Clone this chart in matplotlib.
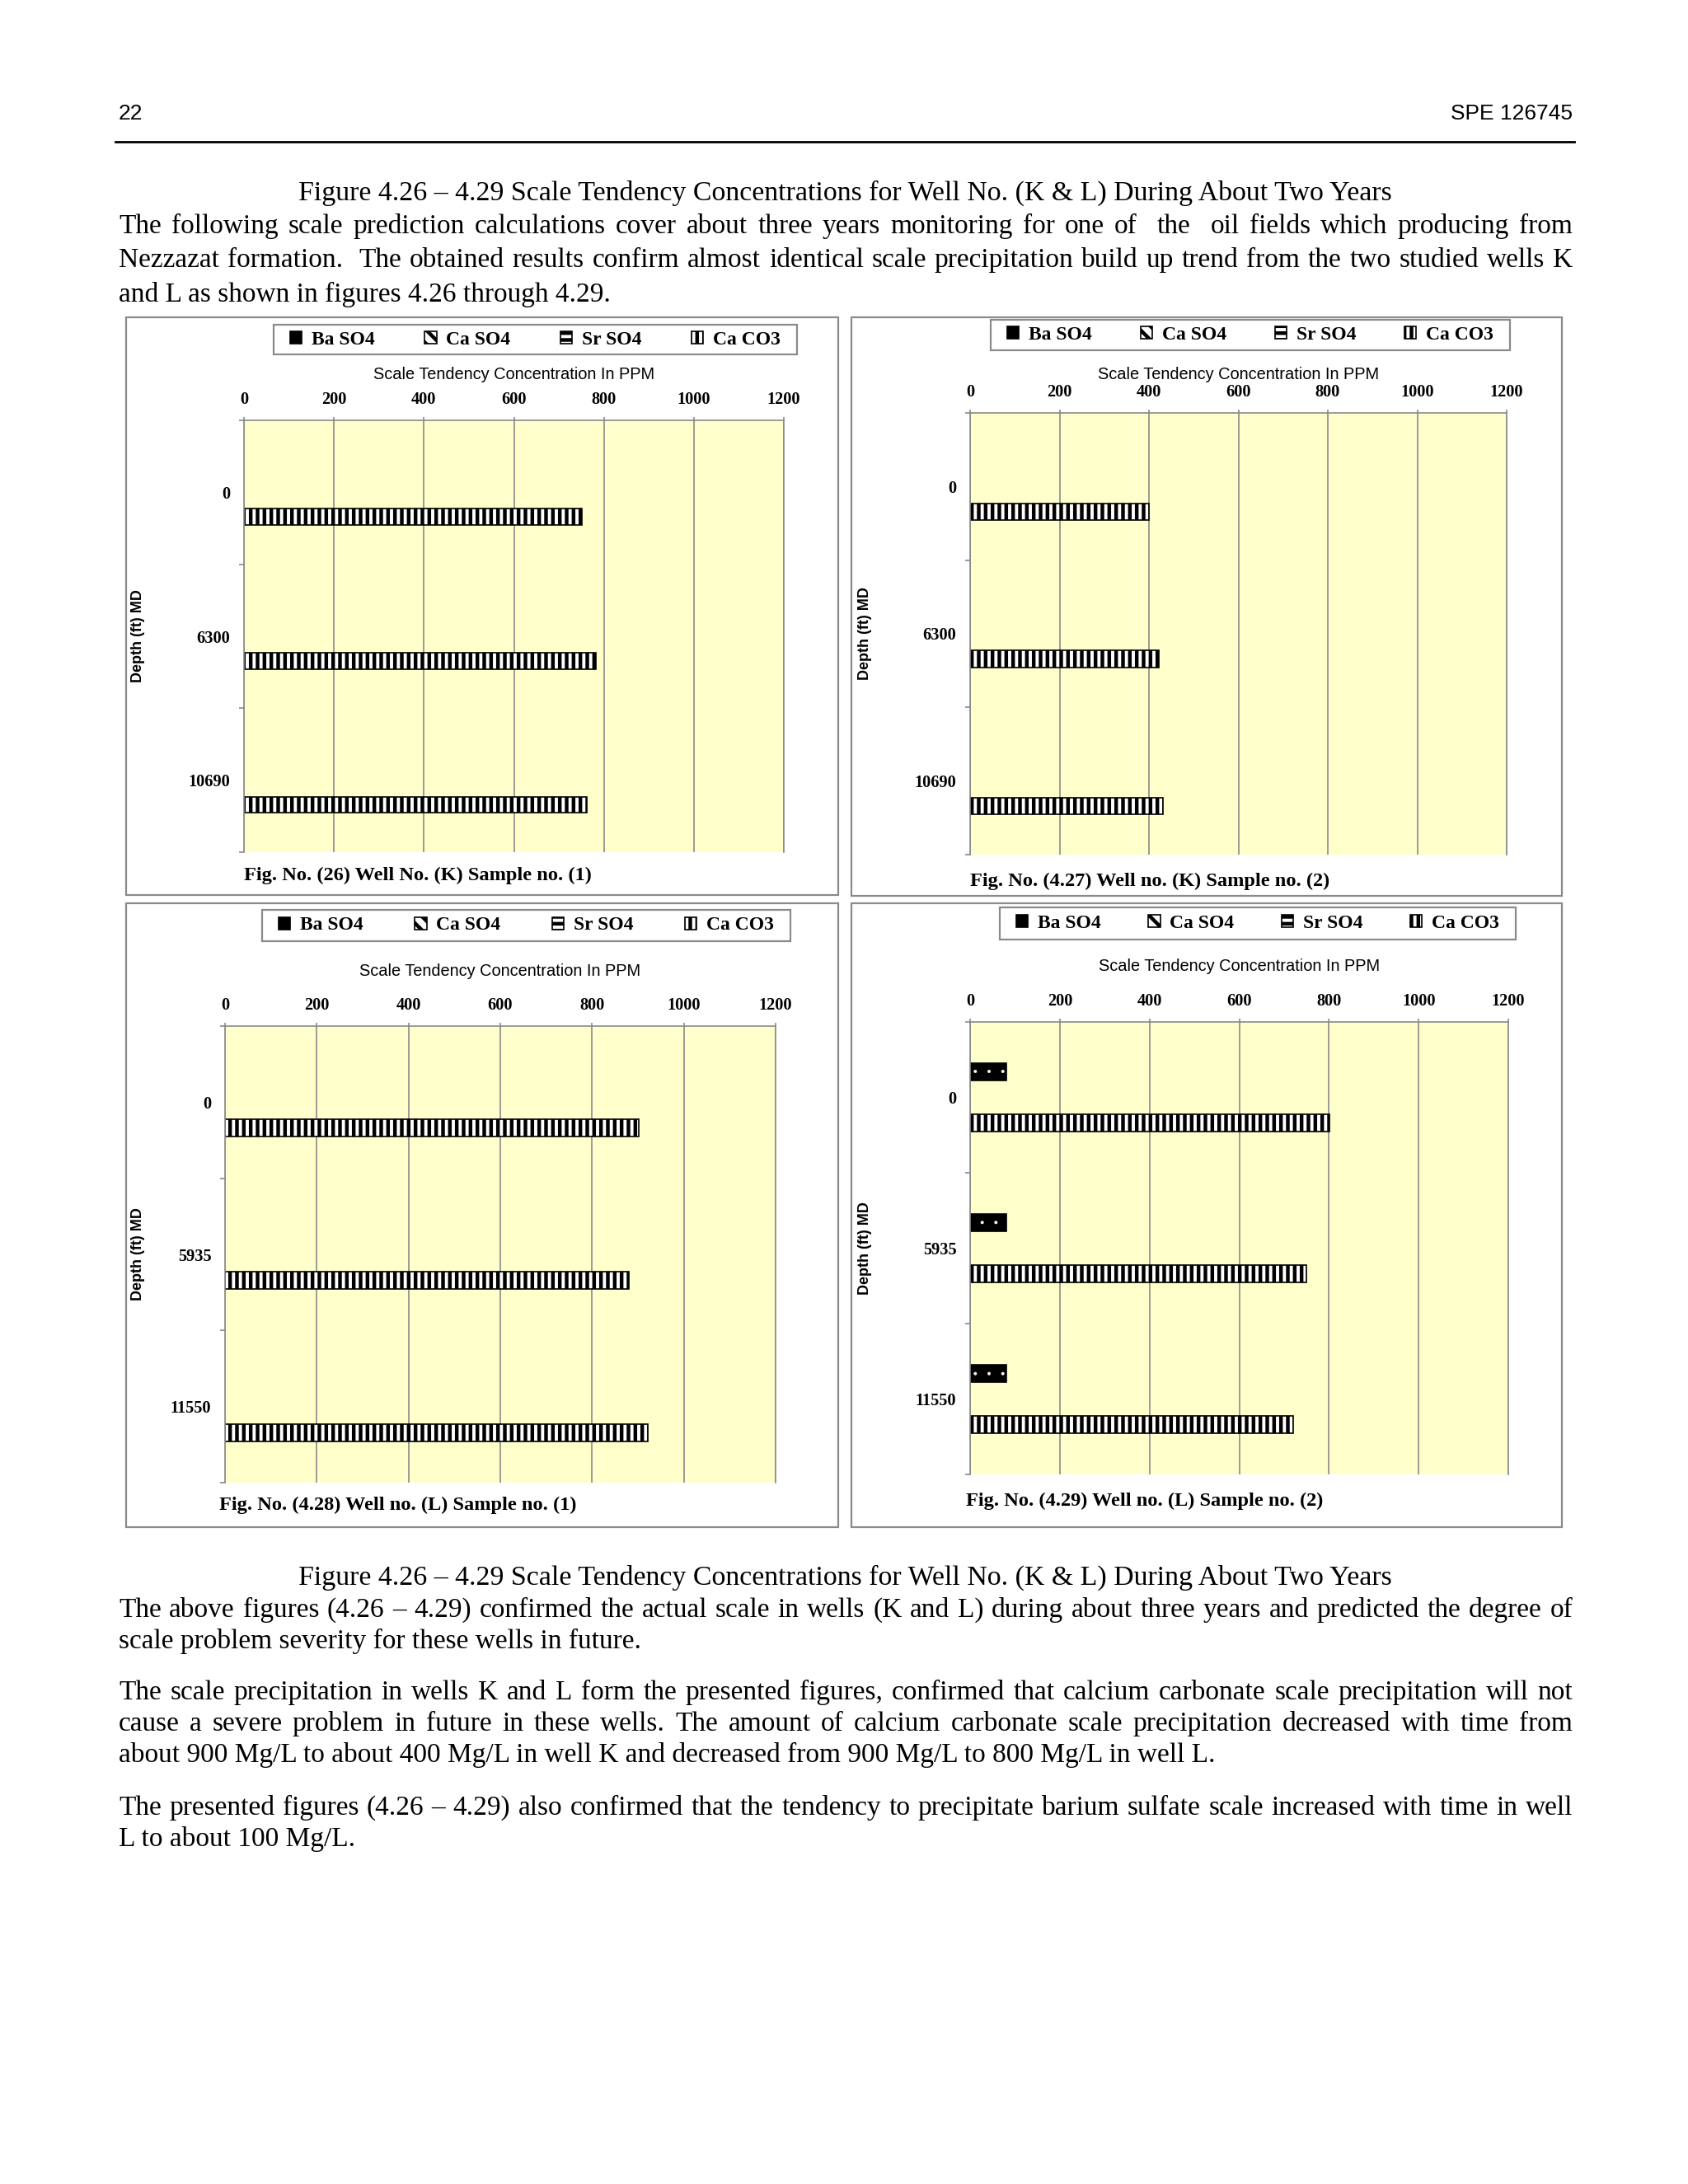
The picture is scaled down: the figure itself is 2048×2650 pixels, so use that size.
import matplotlib
matplotlib.use("Agg")
import matplotlib.pyplot as plt
from matplotlib.patches import Patch, Rectangle

plt.rcParams['font.family'] = ['Liberation Serif', 'DejaVu Serif']
plt.rcParams['hatch.linewidth'] = 1.6

W, H, DPI = 2048, 2650, 200

# ---------------- chart data ----------------
series_names = ['Ba SO4', 'Ca SO4', 'Sr SO4', 'Ca CO3']
depths_k = ['0', '6300', '10690']
depths_l = ['0', '5935', '11550']
conc_ticks = [0, 200, 400, 600, 800, 1000, 1200]

# well K, sample 1
k1_ba_so4 = [0, 0, 0]
k1_ca_so4 = [0, 0, 0]
k1_sr_so4 = [0, 0, 0]
k1_ca_co3 = [752, 782, 762]
# well K, sample 2
k2_ba_so4 = [0, 0, 0]
k2_ca_so4 = [0, 0, 0]
k2_sr_so4 = [0, 0, 0]
k2_ca_co3 = [400, 422, 431]
# well L, sample 1
l1_ba_so4 = [0, 0, 0]
l1_ca_so4 = [0, 0, 0]
l1_sr_so4 = [0, 0, 0]
l1_ca_co3 = [901, 881, 921]
# well L, sample 2
l2_ba_so4 = [80, 80, 80]
l2_ca_so4 = [0, 0, 0]
l2_sr_so4 = [0, 0, 0]
l2_ca_co3 = [802, 750, 720]

chart_captions = ['Fig. No. (26) Well No. (K) Sample no. (1)',
                  'Fig. No. (4.27) Well no. (K) Sample no. (2)',
                  'Fig. No. (4.28) Well no. (L) Sample no. (1)',
                  'Fig. No. (4.29) Well no. (L) Sample no. (2)']
axis_title = 'Scale Tendency Concentration In PPM'
depth_title = 'Depth (ft) MD'

# ---------------- page text ----------------
header_left = '22'
header_right = 'SPE 126745'
figure_caption = ('Figure 4.26 \u2013 4.29 Scale Tendency Concentrations for Well No. '
                  '(K & L) During About Two Years')
para_1 = ['The following scale prediction calculations cover about three years monitoring for one of  the  oil fields which producing from',
          'Nezzazat formation.  The obtained results confirm almost identical scale precipitation build up trend from the two studied wells K',
          'and L as shown in figures 4.26 through 4.29.']
para_2 = ['The above figures (4.26 \u2013 4.29) confirmed the actual scale in wells (K and L) during about three years and predicted the degree of',
          'scale problem severity for these wells in future.']
para_3 = ['The scale precipitation in wells K and L form the presented figures, confirmed that calcium carbonate scale precipitation will not',
          'cause a severe problem in future in these wells. The amount of calcium carbonate scale precipitation decreased with time from',
          'about 900 Mg/L to about 400 Mg/L in well K and decreased from 900 Mg/L to 800 Mg/L in well L.']
para_4 = ['The presented figures (4.26 \u2013 4.29) also confirmed that the tendency to precipitate barium sulfate scale increased with time in well',
          'L to about 100 Mg/L.']

# layout of the four panels in page pixels
charts = [
    dict(depths=depths_k, values=[k1_ba_so4, k1_ca_so4, k1_sr_so4, k1_ca_co3],
         caption=chart_captions[0], box=(153, 385, 1017, 1086), plot=(296, 510, 951, 1034),
         legend=(332, 394, 967, 430), title_y=455, cap_xy=(296, 1068), ylabel_x=168),
    dict(depths=depths_k, values=[k2_ba_so4, k2_ca_so4, k2_sr_so4, k2_ca_co3],
         caption=chart_captions[1], box=(1033, 385, 1895, 1087), plot=(1177, 501, 1828, 1037),
         legend=(1202, 388, 1832, 425), title_y=454, cap_xy=(1177, 1075), ylabel_x=1049),
    dict(depths=depths_l, values=[l1_ba_so4, l1_ca_so4, l1_sr_so4, l1_ca_co3],
         caption=chart_captions[2], box=(153, 1096, 1017, 1853), plot=(273, 1245, 941, 1799),
         legend=(318, 1104, 959, 1142), title_y=1178, cap_xy=(266, 1832), ylabel_x=168),
    dict(depths=depths_l, values=[l2_ba_so4, l2_ca_so4, l2_sr_so4, l2_ca_co3],
         caption=chart_captions[3], box=(1033, 1096, 1895, 1853), plot=(1177, 1240, 1830, 1789),
         legend=(1213, 1101, 1839, 1140), title_y=1172, cap_xy=(1172, 1827), ylabel_x=1049),
]

SLOT = 0.114          # bar thickness as a share of one depth band
GRAY = '#8a8a8a'
HATCHES = [None, '\\\\\\\\', '----', '||||']


def frac(x0, y0, x1, y1):
    return [x0 / W, 1 - y1 / H, (x1 - x0) / W, (y1 - y0) / H]


fig = plt.figure(figsize=(W / DPI, H / DPI), dpi=DPI)
renderer = fig.canvas.get_renderer()

# page layer in pixel units
pg = fig.add_axes([0, 0, 1, 1])
pg.set_xlim(0, W)
pg.set_ylim(H, 0)
pg.axis('off')

LEFT, RIGHT, BODY = 144, 1908, 12

pg.text(LEFT, 145, header_left, family='Liberation Sans', size=9.5, va='baseline')
pg.text(RIGHT, 145, header_right, family='Liberation Sans', size=9.5, va='baseline', ha='right')
pg.plot([140, 1910], [172, 172], color='black', lw=1.0)


def put_line(text, y, justify):
    if not justify:
        pg.text(LEFT, y, text, size=BODY, va='baseline')
        return
    words = text.split(' ')
    objs = [pg.text(0, y, w, size=BODY, va='baseline') for w in words]
    widths = [o.get_window_extent(renderer).width if w else 0 for o, w in zip(objs, words)]
    gap = (RIGHT - LEFT - sum(widths)) / (len(words) - 1)
    x = LEFT
    for o, wd in zip(objs, widths):
        o.set_x(x)
        x += wd + gap


def put_para(lines, ys):
    for k, (line, y) in enumerate(zip(lines, ys)):
        put_line(line, y, k < len(lines) - 1)


pg.text(1025, 243, figure_caption, size=12.2, ha='center', va='baseline')
put_para(para_1, [283, 324, 366])
pg.text(1025, 1923, figure_caption, size=12.2, ha='center', va='baseline')
put_para(para_2, [1962, 2000])
put_para(para_3, [2062, 2100, 2138])
put_para(para_4, [2202, 2240])

legend_handles = [
    Patch(facecolor='black', edgecolor='black', linewidth=0.6),
    Patch(facecolor='white', edgecolor='black', hatch=HATCHES[1], linewidth=0.6),
    Patch(facecolor='white', edgecolor='black', hatch=HATCHES[2], linewidth=0.6),
    Patch(facecolor='white', edgecolor='black', hatch=HATCHES[3], linewidth=0.6),
]

for ch in charts:
    bx0, by0, bx1, by1 = ch['box']
    pg.add_patch(Rectangle((bx0, by0), bx1 - bx0, by1 - by0, fill=False, edgecolor=GRAY, lw=0.8))
    lx0, ly0, lx1, ly1 = ch['legend']
    pg.add_patch(Rectangle((lx0, ly0), lx1 - lx0, ly1 - ly0, facecolor='white', edgecolor=GRAY, lw=0.8))

    px0, py0, px1, py1 = ch['plot']
    ax = fig.add_axes(frac(px0, py0, px1, py1))
    ax.set_facecolor('#FFFFCC')
    n = len(ch['depths'])
    ax.set_xlim(0, 1200)
    ax.set_ylim(n, 0)

    for j, vals in enumerate(ch['values']):
        ys = [i + 0.5 + (j - 1.5) * SLOT for i in range(n)]
        lws = [0.6 if v > 0 else 0 for v in vals]
        if j == 0:
            # Ba SO4: black with a few tiny white dots
            with plt.rc_context({'hatch.linewidth': 0.2}):
                ax.barh(ys, vals, height=SLOT, color='black', edgecolor='white', hatch='..', linewidth=0)
            ax.barh(ys, vals, height=SLOT, fill=False, edgecolor='black', linewidth=lws)
        else:
            ax.barh(ys, vals, height=SLOT, color='white', edgecolor='black', hatch=HATCHES[j], linewidth=lws)

    ax.xaxis.tick_top()
    ax.set_xticks(conc_ticks)
    ax.set_xticklabels([str(t) for t in conc_ticks], fontweight='bold')
    ax.tick_params(axis='x', direction='out', length=1.5, width=0.6, color=GRAY, pad=4, labelsize=7.3)
    ax.grid(axis='x', color=GRAY, linewidth=0.6)
    ax.set_axisbelow(True)
    ax.set_yticks([i + 0.5 for i in range(n)])
    ax.set_yticklabels(ch['depths'], fontweight='bold')
    ax.set_yticks(range(n + 1), minor=True)
    ax.tick_params(axis='y', which='major', length=0, pad=6, labelsize=7.3)
    ax.tick_params(axis='y', which='minor', length=2, width=0.6, color=GRAY, direction='out')
    ax.spines['bottom'].set_visible(False)
    for s in ['left', 'top', 'right']:
        ax.spines[s].set_color(GRAY)
        ax.spines[s].set_linewidth(0.6)

    ax.text(0.5, 1 + (py0 - ch['title_y']) / (py1 - py0), axis_title, transform=ax.transAxes,
            ha='center', va='center', family='Liberation Sans', size=7.2)
    pg.text(ch['cap_xy'][0], ch['cap_xy'][1], ch['caption'], weight='bold', size=8.8, va='baseline')
    pg.text(ch['ylabel_x'], (py0 + py1) / 2, depth_title, rotation=90, ha='center', va='center',
            family='Liberation Sans', weight='bold', size=6.5)

    fig.legend(legend_handles, series_names, loc='center',
               bbox_to_anchor=frac(lx0 + 20, ly0, lx1 - 20, ly1), mode='expand', ncol=4,
               frameon=False, borderaxespad=0, borderpad=0, handlelength=0.6, handleheight=0.6,
               handletextpad=0.5, prop=dict(family='Liberation Serif', weight='bold', size=8.5))

fig.savefig('out.png', dpi=DPI, facecolor='white')
